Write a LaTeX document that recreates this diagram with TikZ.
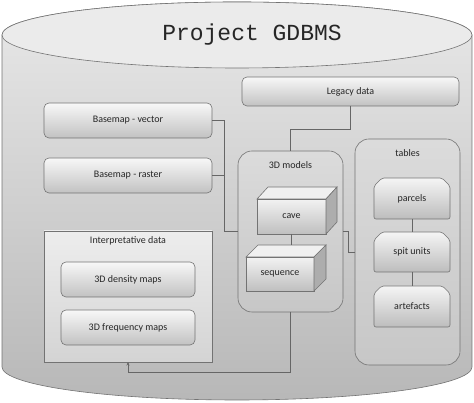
\documentclass[tikz,border=0pt]{standalone}
\usepackage{fontspec}
\setmainfont{Carlito}
\newfontfamily\monofont{Liberation Mono}
\usetikzlibrary{shapes.misc,arrows.meta}
\begin{document}
\begin{tikzpicture}[x=1pt,y=1pt,
  every node/.style={font=\fontsize{10}{12}\selectfont, text=black!85, inner sep=0pt, outer sep=0pt},
  box/.style={draw=black!55, line width=0.6pt, rounded corners=5pt, top color=black!3, bottom color=black!24},
  container/.style={draw=black!55, line width=0.6pt, rounded corners=14pt, top color=black!14, bottom color=black!22},
  tabbox/.style={chamfered rectangle, chamfered rectangle corners={north west,north east},
     chamfered rectangle xsep=4pt, chamfered rectangle ysep=4pt, rounded corners=2pt,
     draw=black!55, line width=0.6pt, top color=black!4, bottom color=black!26,
     minimum width=76pt, minimum height=41pt},
  cubefront/.style={draw=black!55, line width=0.6pt, top color=black!5, bottom color=black!25},
  cubetop/.style={draw=black!55, line width=0.6pt, fill=black!6},
  cubeside/.style={draw=black!55, line width=0.6pt, fill=black!32},
  conn/.style={draw=black!60, line width=0.7pt}]
\useasboundingbox (0,0) rectangle (474,403);
% cylinder
\shade[top color=black!9, bottom color=black!28, draw=black!55, line width=0.6pt]
  (2,368) -- (2,36) arc[start angle=180,end angle=360,x radius=235,y radius=33]
  -- (472,368) arc[start angle=0,end angle=180,x radius=235,y radius=33] -- cycle;
\filldraw[fill=black!8, draw=black!55, line width=0.6pt] (237,368) ellipse[x radius=235,y radius=33];
\node (title) at (252,368) {\monofont\fontsize{23}{25}\selectfont Project GDBMS};
% containers
\node[container, minimum width=105pt, minimum height=161pt] (models) at (290.5,171.5) {};
\node (modelslabel) at ([yshift=-14]models.north) {3D models};
\node[container, minimum width=105pt, minimum height=226pt] (tables) at (407.5,151) {};
\node (tableslabel) at ([yshift=-14]tables.north) {tables};
\node[draw=black!55, line width=0.6pt, top color=black!7, bottom color=black!17,
      minimum width=168pt, minimum height=131pt] (interp) at (128,106.5) {};
\node (interplabel) at ([yshift=-10]interp.north) {Interpretative data};
% boxes
\node[box, minimum width=217pt, minimum height=29pt] (legacy) at (350.5,311.5) {Legacy data};
\node[box, minimum width=168pt, minimum height=35pt] (bvec) at (128,282.5) {Basemap - vector};
\node[box, minimum width=168pt, minimum height=35pt] (bras) at (128,227.5) {Basemap - raster};
\node[box, minimum width=134pt, minimum height=35pt] (density) at (128,123.5) {3D density maps};
\node[box, minimum width=134pt, minimum height=35pt] (freq) at (128,75.5) {3D frequency maps};
% tables items
\node[tabbox] (parcels) at (412,204.5) {parcels};
\node[tabbox, minimum height=40pt] (spit) at (412,151) {spit units};
\node[tabbox] (artefacts) at (412,96.5) {artefacts};
% cubes
\node[cubefront, minimum width=69pt, minimum height=35pt] (cave) at (291.5,186.5) {};
\filldraw[cubetop] (cave.north west) -- ([shift={(11,12)}]cave.north west) -- ([shift={(11,12)}]cave.north east) -- (cave.north east) -- cycle;
\filldraw[cubeside] (cave.north east) -- ([shift={(11,12)}]cave.north east) -- ([shift={(11,12)}]cave.south east) -- (cave.south east) -- cycle;
\node (cavelabel) at (cave.center) {cave};
\node[cubefront, minimum width=68pt, minimum height=34pt] (seq) at (280,129) {};
\filldraw[cubetop] (seq.north west) -- ([shift={(12,12)}]seq.north west) -- ([shift={(12,12)}]seq.north east) -- (seq.north east) -- cycle;
\filldraw[cubeside] (seq.north east) -- ([shift={(12,12)}]seq.north east) -- ([shift={(12,12)}]seq.south east) -- (seq.south east) -- cycle;
\node (seqlabel) at (seq.center) {sequence};
\coordinate (seqtop) at ([shift={(11.5,12)}]seq.north);
% connectors
\draw[conn] (bvec.east) -- ++(12,0) |- (models.west);
\draw[conn] (bras.east) -- ++(12,0);
\draw[conn] (legacy.south) -- ++(0,-23) -| (models.north);
\draw[conn] (models.east) -- ++(5,0) |- (tables.west);
\draw[conn] (cave.south) -- (cave.south |- seqtop);
\draw[conn] (parcels.south) -- (spit.north);
\draw[conn] (spit.south) -- (artefacts.north);
\draw[conn, -{Stealth[length=3.5pt,width=3pt]}] (models.south) -- ++(0,-60) -| (interp.south);
\end{tikzpicture}
\end{document}
